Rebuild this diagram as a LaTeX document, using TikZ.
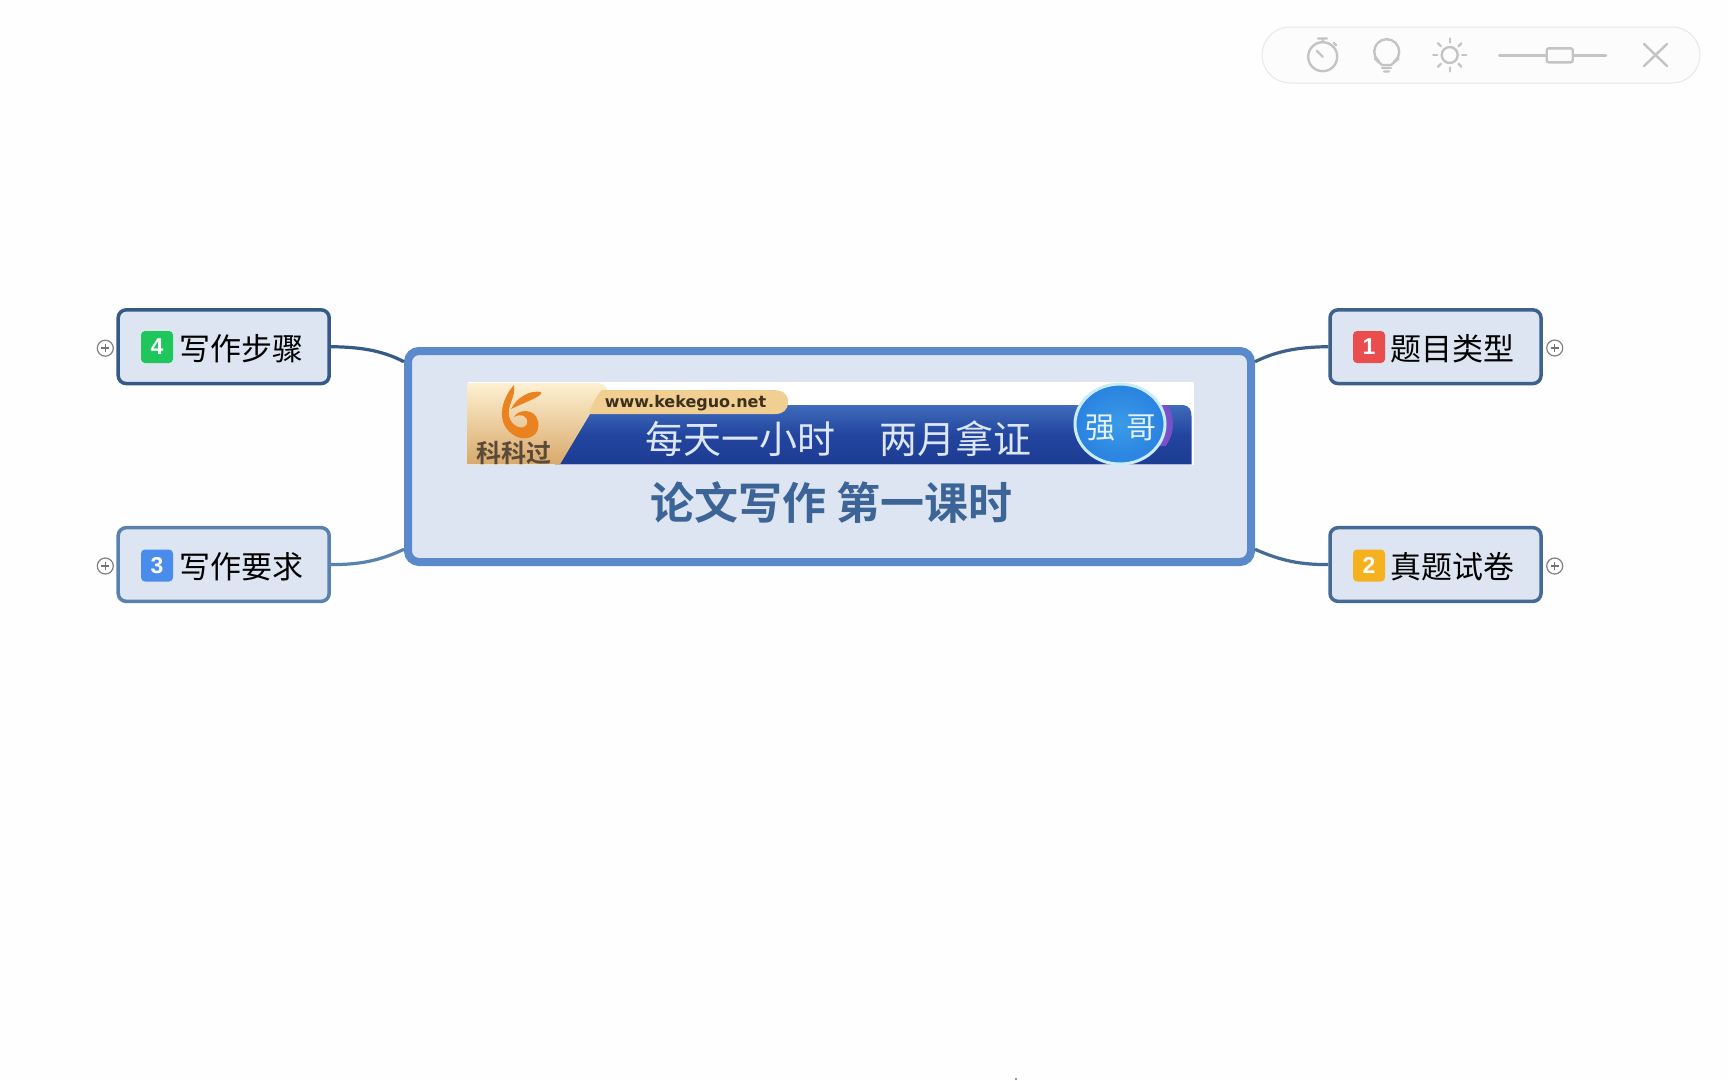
\documentclass[tikz,border=0pt]{standalone}
\usepackage{fontspec}
\setmainfont{Liberation Sans}
\newfontfamily\cjk{Noto Sans CJK SC}
\newfontfamily\cjkbold{Noto Sans CJK SC Bold}
\newfontfamily\urlfont{DejaVu Sans}
\definecolor{pagewhite}{HTML}{FEFEFE}
\definecolor{boxfill}{HTML}{DCE5F1}
\definecolor{mainline}{HTML}{5A8ACB}
\definecolor{titleblue}{HTML}{3C6496}
\definecolor{iconcol}{HTML}{C4C4C4}
\definecolor{bandtop}{HTML}{3F6CBC}
\definecolor{bandmid}{HTML}{23459F}
\definecolor{bandlow}{HTML}{1D3C93}
\definecolor{bandviolet}{HTML}{9A55D8}
\definecolor{goldtop}{HTML}{FDF1D2}
\definecolor{goldlow}{HTML}{D9A96A}
\definecolor{goldpill}{HTML}{F1CF92}
\definecolor{logoorange}{HTML}{E9821F}
\definecolor{logotext}{HTML}{5A4A3A}
\definecolor{urltext}{HTML}{3B2F1E}
\definecolor{slogancol}{HTML}{DCE6F5}
\definecolor{discin}{HTML}{3A9BE8}
\definecolor{discout}{HTML}{2A82E0}
\definecolor{discrim}{HTML}{C9EDF7}
\definecolor{discletter}{HTML}{E4F0FA}
\definecolor{stepsline}{HTML}{355A87}
\definecolor{rulesline}{HTML}{5A82AE}
\definecolor{kindsline}{HTML}{3E618C}
\definecolor{papersline}{HTML}{456A96}
\definecolor{greenbadge}{HTML}{1FC65C}
\definecolor{bluebadge}{HTML}{4A8CEB}
\definecolor{redbadge}{HTML}{EA4D4D}
\definecolor{amberbadge}{HTML}{F5B21E}
\tikzset{
	topicbox/.style={draw,line width=3.5pt,fill=boxfill,rounded corners=8pt,minimum width=211pt,minimum height=73.7pt,inner sep=0pt},
	badge/.style={fill,rounded corners=4pt,minimum size=32pt,inner sep=0pt,text=white,font=\fontsize{23}{23}\selectfont\bfseries},
	topictext/.style={inner sep=0pt,text=black,font=\fontsize{31}{31}\cjk},
	link/.style={line width=3.2pt},
	plusmark/.style={circle,draw=black!50,line width=1.2pt,fill=white,minimum size=16pt,inner sep=0pt,
		path picture={\draw[black!55,line width=1.5pt]
			(path picture bounding box.center)+(-4pt,0)--+(4pt,0)
			(path picture bounding box.center)+(0,-4pt)--+(0,4pt);}},
	icon/.style={draw=iconcol,line width=2.4pt,line cap=round}
}
\begin{document}
\begin{tikzpicture}[x=1pt,y=-1pt]
	\useasboundingbox[fill=pagewhite] (0,0) rectangle (1728,1080);
	% toolbar
	\node[draw=black!9,line width=1pt,fill=black!1,rounded corners=28pt,minimum width=438pt,minimum height=56pt,inner sep=0pt] (toolbar) at (1481,55) {};
	\node[circle,icon,minimum size=29pt,inner sep=0pt] (watch) at (1322.7,56.7) {};
	\draw[icon] (1318,38.5) -- (1327,38.5) (1322.7,38.5) -- (watch.north) (1334,43) -- (1336,45) (1322.7,56.7) -- (1317,51);
	\node[icon,circle,minimum size=25pt,inner sep=0pt] (bulb) at (1386.7,51.7) {};
	\fill[black!1] (1380,60) rectangle (1393,66);
	\draw[icon] (bulb.210) -- (1382,65) -- (1391,65) -- (bulb.330) (1382,68) -- (1391,68) (1384,71.5) -- (1389,71.5);
	\node[icon,circle,minimum size=16pt,inner sep=0pt] (sun) at (1449.7,55) {};
	\foreach \a in {0,45,...,315}
		\draw[icon] (sun.center)+(\a:12.5) -- +(\a:16.5);
	\node[icon,rounded corners=2pt,minimum width=26pt,minimum height=14pt,inner sep=0pt] (handle) at (1559.7,55.3) {};
	\coordinate (slideleft) at (1499.3,55.3);
	\coordinate (slideright) at (1606,55.3);
	\draw[icon] (slideleft) -- (handle.west) (handle.east) -- (slideright);
	\coordinate (closea) at (1644,44); \coordinate (closeb) at (1667,66);
	\coordinate (closec) at (1667,44); \coordinate (closed) at (1644,66);
	\draw[icon] (closea) -- (closeb) (closec) -- (closed);
	% main topic
	\node[draw=mainline,line width=8pt,fill=boxfill,rounded corners=11pt,minimum width=843pt,minimum height=211pt,inner sep=0pt] (main) at (829.5,456.5) {};
	% banner
	\fill[white] (467.7,381.7) rectangle (1194,465);
	\shade[top color=bandtop,bottom color=bandlow,middle color=bandmid] (590,405) -- (1183,405) .. controls (1189,405.5) and (1191.5,410) .. (1191.5,416) -- (1191.5,464.3) -- (555,464.3) -- cycle;
	\begin{scope}
		\clip (1100,405) rectangle (1191.5,445);
		\shade[left color=bandviolet,right color=bandviolet!70!bandmid] (1128,424) ellipse (45 and 40);
	\end{scope}
	\shade[top color=goldtop,bottom color=goldlow] (467.7,383) -- (596,383) .. controls (603,383) and (605,385) .. (607,390) -- (590,414) -- (560,464.3) -- (467.7,464.3) -- cycle;
	\fill[goldpill] (788,402) .. controls (788,393) and (782,390) .. (772,390) -- (602,390) .. controls (597,395) and (592,404) .. (589,414) -- (775,414) .. controls (783,414) and (788,410) .. (788,402) -- cycle;
	% logo swirl
	\fill[logoorange] (514,385) .. controls (502,398) and (493,425) .. (517,437) .. controls (528,441) and (541,436) .. (538,421) .. controls (535,408) and (518,409) .. (514,417) .. controls (521,413) and (529,416) .. (527,424) .. controls (524,431) and (511,427) .. (509,416) .. controls (507,405) and (516,397) .. (514,385) -- cycle;
	\fill[logoorange] (511,409) .. controls (517,397) and (530,390) .. (541,392) .. controls (543,396) and (530,400) .. (511,409) -- cycle;
	\node[inner sep=0pt,text=logotext,font=\fontsize{25}{25}\cjkbold] (logoname) at (514,453) {科科过};
	\node[inner sep=0pt,text=urltext,font=\fontsize{16}{16}\urlfont\bfseries] (weburl) at (685.5,403.5) {www.kekeguo.net};
	\node[inner sep=0pt,text=slogancol,font=\fontsize{38}{38}\cjk] (slogana) at (740,439) {每天一小时};
	\node[inner sep=0pt,text=slogancol,font=\fontsize{38}{38}\cjk] (sloganb) at (955,439) {两月拿证};
	\shade[inner color=discin,outer color=discout,draw=discrim,line width=3pt] (1120,424) ellipse (45 and 40);
	\node[inner sep=0pt,text=discletter,font=\fontsize{30}{30}\cjk] (teacher) at (1121,427.5) {强\hspace{0.35em}哥};
	\node[inner sep=0pt,text=titleblue,font=\fontsize{44}{44}\cjkbold] (title) at (831,503) {论文写作 第一课时};
	% topics
	\node[topicbox,draw=stepsline] (steps) at (223.7,346.7) {};
	\node[topicbox,draw=rulesline] (rules) at (223.7,564.5) {};
	\node[topicbox,draw=kindsline] (kinds) at (1435.5,346.7) {};
	\node[topicbox,draw=papersline] (papers) at (1435.5,564.5) {};
	\draw[link,draw=stepsline] (steps.east) .. controls (365,347) and (385,352) .. (main.west |- 0,361.7);
	\draw[link,draw=rulesline] (rules.east) .. controls (365,565) and (385,558) .. (main.west |- 0,549.3);
	\draw[link,draw=kindsline] (kinds.west) .. controls (1295,347) and (1275,352) .. (main.east |- 0,361.7);
	\draw[link,draw=papersline] (papers.west) .. controls (1295,565) and (1275,558) .. (main.east |- 0,549.3);
	\node[badge,fill=greenbadge] (stepsnum) at (157,347) {4};
	\node[badge,fill=bluebadge] (rulesnum) at (157,565.5) {3};
	\node[badge,fill=redbadge] (kindsnum) at (1369,347) {1};
	\node[badge,fill=amberbadge] (papersnum) at (1369,565.5) {2};
	\node[topictext] (stepstext) at (241,348.5) {写作步骤};
	\node[topictext] (rulestext) at (241,566.5) {写作要求};
	\node[topictext] (kindstext) at (1452.5,348.5) {题目类型};
	\node[topictext] (paperstext) at (1452.5,566.5) {真题试卷};
	\node[plusmark] (stepsplus) at (105.3,348.2) {};
	\node[plusmark] (rulesplus) at (105.3,566) {};
	\node[plusmark] (kindsplus) at (1554.7,348) {};
	\node[plusmark] (papersplus) at (1554.7,566) {};
	% stray mark at the bottom edge
	\fill[black!55] (1016,1079) circle (1.2);
\end{tikzpicture}
\end{document}
